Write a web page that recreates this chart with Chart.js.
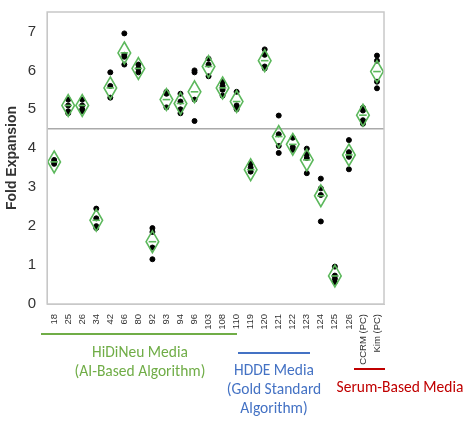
<!DOCTYPE html><html><head><meta charset="utf-8">
<script src="https://cdn.jsdelivr.net/npm/chart.js@4/dist/chart.umd.min.js"></script>
<style>body{margin:0;background:#fff;font-family:Calibri,Carlito,"Open Sans",sans-serif;}
#wrap{position:relative;width:474px;height:422px;}
.t{position:absolute;text-align:center;font-size:15.5px;line-height:19px;}
.ln{position:absolute;height:2px;}</style></head><body>
<div id="wrap"><canvas id="c" width="392" height="372" style="position:absolute;left:0;top:0;width:392px;height:372px"></canvas>
<div class="ln" style="left:41px;top:333px;width:196px;background:#70ad47"></div>
<div class="t" style="left:40px;top:342px;width:200px;color:#70ad47">HiDiNeu Media<br>(AI-Based Algorithm)</div>
<div class="ln" style="left:238px;top:352px;width:72px;background:#4472c4"></div>
<div class="t" style="left:214px;top:360px;width:120px;color:#4472c4">HDDE Media<br>(Gold Standard<br>Algorithm)</div>
<div class="ln" style="left:354px;top:368px;width:31px;background:#c00000"></div>
<div class="t" style="left:330px;top:377px;width:140px;color:#c00000">Serum-Based Media</div>
</div>
<script>
const categories=['18','25','26','34','42','66','80','92','93','94','96','103','108','110','119','120','121','122','123','124','125','126','CCRM (PC)','Kim (PC)'];
const means=[3.65,5.1,5.1,2.15,5.55,6.45,6.05,1.6,5.25,5.15,5.45,6.1,5.55,5.2,3.45,6.25,4.3,4.1,3.7,2.78,0.72,3.83,4.85,5.97];
const points=[[3.7,3.6,3.65],[5.25,5.1,4.95,4.9],[5.25,5.1,5.0,4.95],[2.45,2.2,2.0,1.95],[5.95,5.6,5.3],[6.95,6.4,6.35,6.15],[6.15,6.05,5.95],[1.95,1.85,1.45,1.15],[5.45,5.4,5.05],[5.4,5.2,5.0,4.9],[6.0,5.95,5.25,4.7],[6.3,6.15,5.85],[5.7,5.6,5.5,5.35],[5.45,5.1,5.05,5.0],[3.6,3.5,3.4],[6.54,6.4,6.1,6.05],[4.84,4.36,4.06,3.88],[4.27,4.03,3.96],[3.99,3.84,3.75,3.36],[3.22,2.97,2.8,2.12],[0.96,0.73,0.65,0.56],[4.21,3.9,3.78,3.46],[5.04,4.97,4.72,4.63],[6.38,6.25,5.71,5.54]];
const yTicks=[0,1,2,3,4,5,6,7];
const refLine=4.5, halfH=0.28;
const pts=[];points.forEach((a,i)=>a.forEach(v=>pts.push({x:categories[i],y:v})));
const diamonds={id:'diamonds',afterDatasetsDraw(ch){
 const {ctx,scales:{x,y},chartArea:a}=ch;ctx.save();
 ctx.strokeStyle='#aaa';ctx.lineWidth=1.5;ctx.beginPath();ctx.moveTo(a.left,y.getPixelForValue(refLine));ctx.lineTo(a.right,y.getPixelForValue(refLine));ctx.stroke();
 ctx.strokeStyle='#5cb85c';ctx.lineWidth=1.6;
 means.forEach((m,i)=>{const cx=x.getPixelForValue(i),w=(x.getPixelForValue(1)-x.getPixelForValue(0))*0.45;
  const yt=y.getPixelForValue(m+halfH),yb=y.getPixelForValue(m-halfH),ym=y.getPixelForValue(m);
  ctx.beginPath();ctx.moveTo(cx,yt);ctx.lineTo(cx+w,ym);ctx.lineTo(cx,yb);ctx.lineTo(cx-w,ym);ctx.closePath();ctx.stroke();
  ctx.beginPath();ctx.moveTo(cx-w*0.6,ym);ctx.lineTo(cx+w*0.6,ym);ctx.stroke();});
 ctx.strokeStyle='#c8c8c8';ctx.lineWidth=1.5;ctx.strokeRect(a.left,a.top,a.right-a.left,a.bottom-a.top);
 ctx.restore();}};
new Chart(document.getElementById('c'),{type:'scatter',data:{labels:categories,datasets:[{data:pts,backgroundColor:'#000',borderColor:'#000',pointRadius:2.5,showLine:false}]},
options:{responsive:false,animation:false,layout:{padding:{top:0,right:8}},plugins:{legend:{display:false},tooltip:{enabled:false}},
scales:{x:{type:'category',labels:categories,offset:true,afterFit:s=>{s.height=68},grid:{display:false,drawTicks:true},border:{color:'#c8c8c8'},ticks:{autoSkip:false,maxRotation:90,minRotation:90,color:'#333',font:{size:9.5,family:'Arial'},padding:2}},
y:{min:0,max:7.5,afterBuildTicks:s=>{s.ticks=yTicks.map(v=>({value:v}))},grid:{display:false},border:{color:'#c8c8c8'},ticks:{color:'#333',font:{size:15,family:'Arial'}},title:{display:true,text:'Fold Expansion',color:'#333',font:{size:14,family:'Arial',weight:'bold'}}}}},
plugins:[diamonds]});
</script></body></html>
